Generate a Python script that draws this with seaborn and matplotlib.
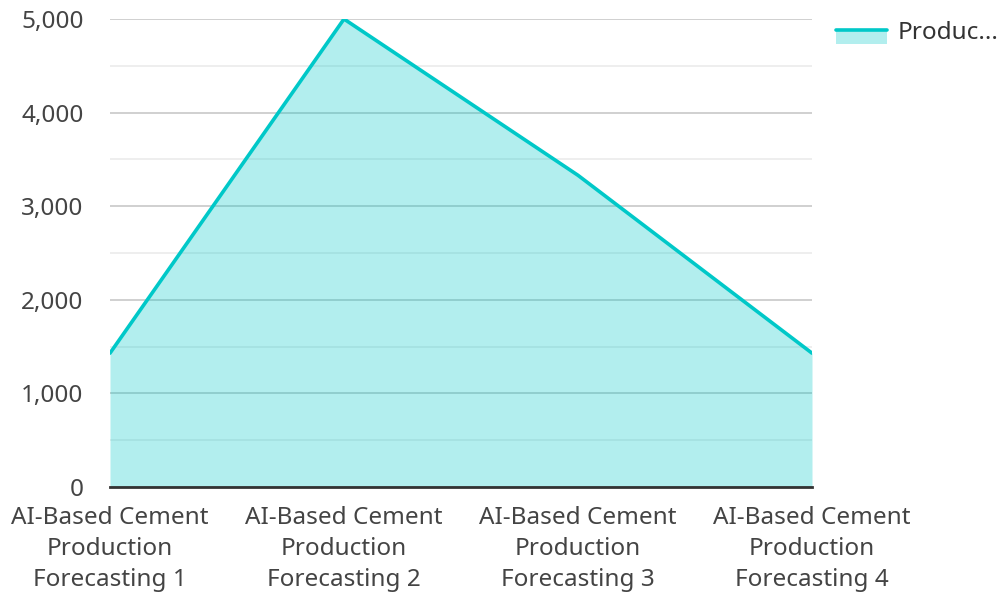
import matplotlib
matplotlib.use("Agg")
import matplotlib.pyplot as plt
import seaborn as sns
import pandas as pd
from matplotlib.legend_handler import HandlerBase
from matplotlib.patches import Rectangle
from matplotlib.lines import Line2D
from matplotlib.ticker import MultipleLocator, FuncFormatter

categories = [
    "AI-Based Cement\nProduction\nForecasting 1",
    "AI-Based Cement\nProduction\nForecasting 2",
    "AI-Based Cement\nProduction\nForecasting 3",
    "AI-Based Cement\nProduction\nForecasting 4",
]
values = [1430, 5000, 3330, 1430]
series_name = "Produc..."

sns.set_theme(style="white")
plt.rcParams['font.family'] = ['Noto Sans', 'DejaVu Sans']

LINE = "#00C8C8"
FS = 17.5
df = pd.DataFrame({"x": range(len(categories)), "y": values})

fig = plt.figure(figsize=(9.99, 5.92), dpi=100)
ax = fig.add_axes([110/999, 1 - 487/592, (812-110)/999, (487-19)/592])

ax.fill_between(df["x"], df["y"], 0, color=LINE, alpha=0.3, linewidth=0, zorder=2)
sns.lineplot(data=df, x="x", y="y", ax=ax, color=LINE, linewidth=2.6, zorder=3)

ax.set_xlim(0, len(categories) - 1)
ax.set_ylim(0, 5000)
ax.yaxis.set_major_locator(MultipleLocator(1000))
ax.yaxis.set_minor_locator(MultipleLocator(500))
ax.yaxis.set_major_formatter(FuncFormatter(lambda v, p: f"{int(v):,}"))
ax.grid(True, which="major", axis="y", color="#c8c8c8", linewidth=1.2, zorder=1)
ax.grid(True, which="minor", axis="y", color="#ebebeb", linewidth=1.2, zorder=1)
ax.set_axisbelow(True)
ax.set_xticks(range(len(categories)))
ax.set_xticklabels(categories, linespacing=1.37)
ax.tick_params(axis="both", which="both", length=0, labelsize=FS, labelcolor="#444444")
ax.tick_params(axis="y", pad=19)
ax.tick_params(axis="x", pad=14)
ax.set_xlabel("")
ax.set_ylabel("")
for s in ["top", "right", "left"]:
    ax.spines[s].set_visible(False)
ax.spines["bottom"].set_color("#333333")
ax.spines["bottom"].set_linewidth(2)
ax.spines["bottom"].set_zorder(4)


class AreaHandler(HandlerBase):
    def create_artists(self, legend, orig_handle, xdescent, ydescent, width, height, fontsize, trans):
        top = -ydescent + height * 0.5
        r = Rectangle((-xdescent, top - height * 0.8), width, height * 0.8, facecolor=LINE,
                      alpha=0.3, edgecolor="none", transform=trans)
        l = Line2D([-xdescent, -xdescent + width], [top, top], color=LINE,
                   linewidth=2.6, transform=trans)
        return [r, l]


handle = Rectangle((0, 0), 1, 1)
fig.legend([handle], [series_name], handler_map={Rectangle: AreaHandler()},
           loc="upper left", bbox_to_anchor=(836/999, 1 - 21/592), frameon=False,
           fontsize=FS, labelcolor="#333333", handlelength=2.1, handletextpad=0.45,
           borderaxespad=0, borderpad=0)

fig.savefig("out.png", dpi=100)
